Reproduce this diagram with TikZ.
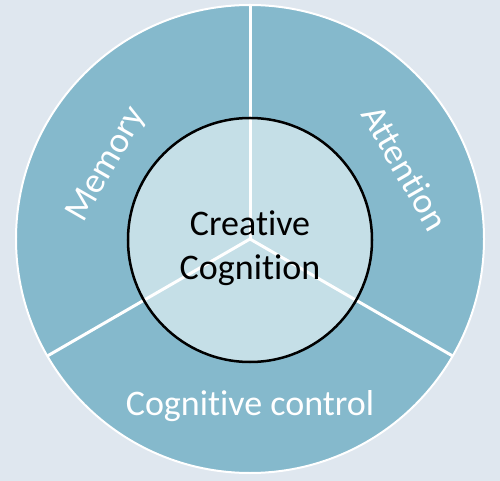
\documentclass[tikz,border=0pt]{standalone}
\usepackage{fontspec}
\setmainfont{Carlito}[Ligatures=NoCommon]
\usepackage{xcolor}
\definecolor{bgcol}{RGB}{223,231,239}
\definecolor{ringcol}{RGB}{133,185,204}
\definecolor{corecol}{RGB}{197,223,231}

\begin{document}
\begin{tikzpicture}[x=1pt,y=1pt,
	ringlabel/.style={
		text=white,inner sep=0pt,
		font=\fontsize{36}{42}\selectfont
	}]
	%\draw[help lines] (-250,-242) grid (250,239);
	\tikzstyle{divider} = [draw=white,line width=3pt]
	\tikzstyle{corelabel} = [align=center,text=black,inner sep=0pt,font=\fontsize{36}{44}\selectfont]

	\useasboundingbox[fill=bgcol] (-250,-242) rectangle (250,239);
	\fill[ringcol] (0,0) circle (234);
	\fill[corecol] (0,-1) circle (122);

	\coordinate (c) at (0,0);
	\coordinate (top) at (90:234);
	\coordinate (left) at (210:234);
	\coordinate (right) at (330:234);

	\draw[divider] (c) -- (top);
	\draw[divider] (c) -- (left);
	\draw[divider] (c) -- (right);

	\draw[black,line width=2.5pt] (0,-1) circle (122);
	\draw[white,line width=2pt] (0,0) circle (234);

	\node[corelabel] (core) at (0,-9) {Creative\\Cognition};
	\node[ringlabel,rotate=60] (memory) at (152.5:161) {Memory};
	\node[ringlabel,rotate=-60] (attention) at (24.6:171) {Attention};
	\node[ringlabel,anchor=base] (control) at (0,-176) {Cognitive control};
\end{tikzpicture}
\end{document}
